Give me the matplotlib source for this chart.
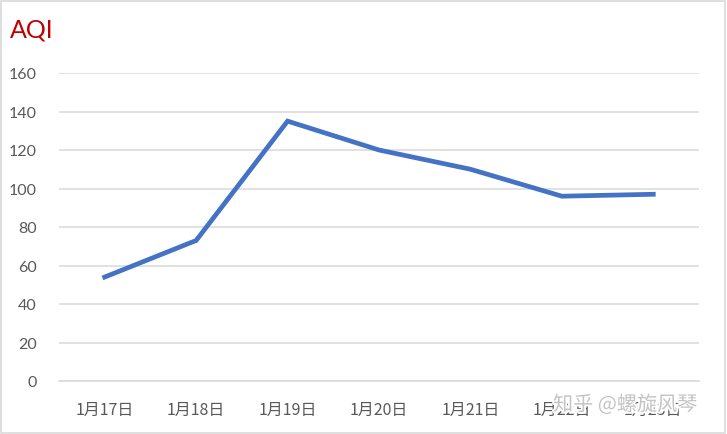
import matplotlib.pyplot as plt
import matplotlib.patheffects as pe
from matplotlib.patches import Rectangle

# AQI readings per day
dates = ['1月17日', '1月18日', '1月19日', '1月20日', '1月21日', '1月22日', '1月23日']
aqi = [54, 73, 135, 120, 110, 96, 97]
yticks = [0, 20, 40, 60, 80, 100, 120, 140, 160]

plt.rcParams['font.family'] = ['Lato', 'Noto Sans CJK SC', 'DejaVu Sans']

fig = plt.figure(figsize=(7.27, 4.35), dpi=100)
ax = fig.add_axes([59 / 727, 53 / 435, 640 / 727, 308 / 435])

x = list(range(len(dates)))
ax.plot(x, aqi, color='#4472C4', linewidth=3.4, solid_joinstyle='miter', zorder=3)

ax.set_xlim(-0.5, len(dates) - 0.5)
ax.set_ylim(0, 160)
ax.set_yticks(yticks)
ax.set_xticks(x)
ax.set_xticklabels(dates, family=['Noto Sans CJK SC', 'DejaVu Sans'])
ax.yaxis.grid(True, color='#D9D9D9', linewidth=1.1)
ax.set_axisbelow(True)
for s in ax.spines.values():
    s.set_visible(False)
ax.spines['bottom'].set_visible(True)
ax.spines['bottom'].set_color('#D9D9D9')
ax.spines['bottom'].set_linewidth(1.1)
ax.tick_params(axis='both', length=0, colors='#595959', labelsize=11.5)
ax.tick_params(axis='y', pad=16)
ax.tick_params(axis='x', pad=14, labelsize=11.5)

fig.text(10 / 727, 1 - 30 / 435, 'AQI', color='#C00000', fontsize=18, va='center', ha='left')

# watermark
fig.text(553 / 727, 1 - 406 / 435, '知乎 @螺旋风琴', color='#C4C4C4',
         fontsize=14.5, va='center', ha='left', family=['Noto Sans CJK SC', 'DejaVu Sans'],
         path_effects=[pe.withStroke(linewidth=2.5, foreground='white')])

fig.patches.append(Rectangle((0.002, 0.003), 0.995, 0.993, transform=fig.transFigure,
                             fill=False, edgecolor='#D9D9D9', linewidth=1.2))

fig.savefig('out.png', dpi=100)
